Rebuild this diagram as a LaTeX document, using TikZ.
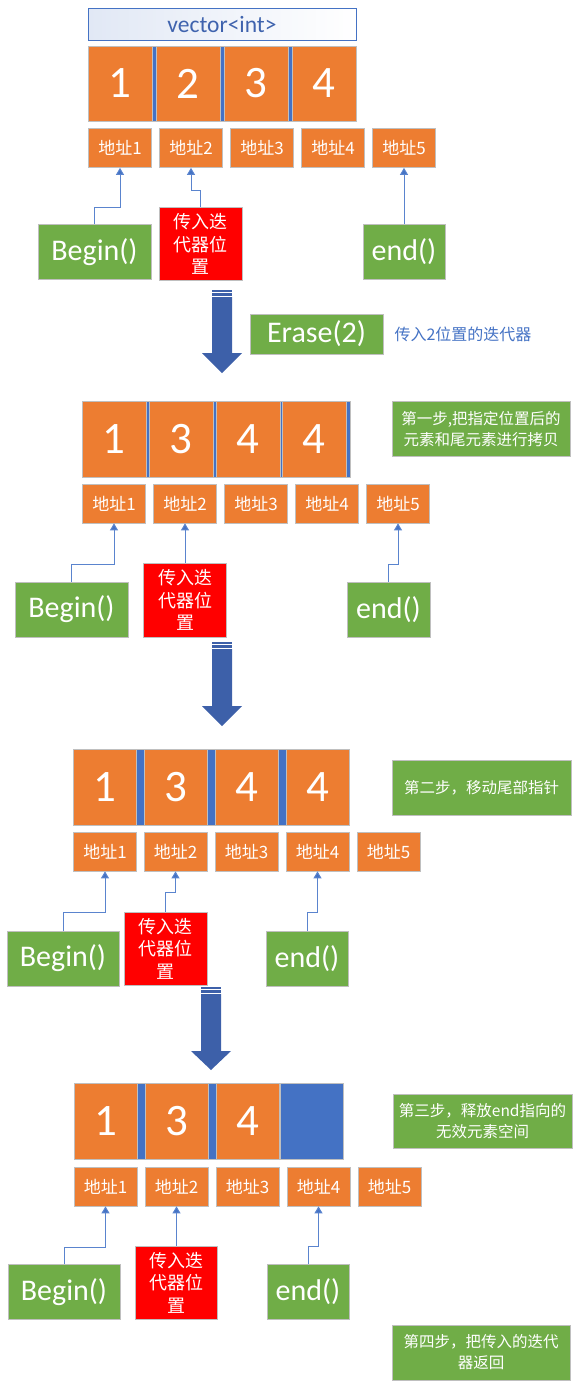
\documentclass[tikz,border=0pt]{standalone}
\usepackage{fontspec}
\setmainfont{Carlito}
\newfontfamily\cjk{Noto Sans CJK SC}
\usetikzlibrary{arrows.meta}
\definecolor{cellorange}{HTML}{ED7D31}
\definecolor{boxgreen}{HTML}{70AD47}
\definecolor{slotblue}{HTML}{4472C4}
\definecolor{edgegray}{HTML}{BFBFBF}
\definecolor{linkblue}{HTML}{5A84CE}
\definecolor{bigarrow}{HTML}{3D60A9}
\definecolor{vecshade}{HTML}{E1E8F5}
\definecolor{vectext}{HTML}{3F63AE}

\tikzset{
    cell/.style = {fill = cellorange, draw = edgegray, line width = 0.7pt, minimum width = 64pt, minimum height = 75pt, inner sep = 0pt, text = white, font = \fontsize{45}{45}\selectfont},
    slots/.style = {fill = slotblue, draw = edgegray, line width = 0.7pt, minimum height = 75pt, inner sep = 0pt},
    addr/.style = {fill = cellorange, draw = edgegray, line width = 0.7pt, minimum width = 63pt, minimum height = 39pt, inner sep = 0pt, text = white, font = \cjk\fontsize{17}{17}\selectfont},
    call/.style = {fill = boxgreen, draw = edgegray, line width = 0.7pt, minimum height = 55pt, inner sep = 0pt, text = white, font = \fontsize{30}{30}\selectfont},
    iter/.style = {fill = red, draw = edgegray, line width = 0.7pt, minimum width = 83pt, minimum height = 73pt, inner sep = 0pt, text = white, align = center, font = \cjk\fontsize{18}{22.5}\selectfont},
    stepnote/.style = {fill = boxgreen, draw = edgegray, line width = 0.7pt, minimum width = 178pt, minimum height = 55pt, inner sep = 0pt, text = white, align = center, font = \cjk\fontsize{15.5}{21}\selectfont},
    ptr/.style = {draw = linkblue, line width = 1pt, -{Triangle[width = 8pt, length = 7pt, fill = slotblue]}}
}

\begin{document}
\begin{tikzpicture}[x = 1pt, y = -1pt]

        \useasboundingbox (0, 0) rectangle (575, 1382);

        % Start
        \node [draw = slotblue, line width = 0.8pt, left color = vecshade, right color = white, minimum width = 268pt, minimum height = 32pt, text = vectext, font = \fontsize{23.5}{23.5}\selectfont] (vec) at (222, 24) {vector<int>};
        \node [slots, minimum width = 268pt] (s1) at (222, 83.5) {};
        \node [cell] (c11) at (120, 83.5) {1};
        \node [cell] (c12) at (188, 83.5) {2};
        \node [cell] (c13) at (256, 83.5) {3};
        \node [cell] (c14) at (324, 83.5) {4};

        \node [addr] (a11) at (120, 148) {地址1};
        \node [addr] (a12) at (191, 148) {地址2};
        \node [addr] (a13) at (262, 148) {地址3};
        \node [addr] (a14) at (333, 148) {地址4};
        \node [addr] (a15) at (404, 148) {地址5};

        \node [call, minimum width = 113pt] (beg1) at (94.5, 252) {Begin()};
        \node [iter] (red1) at (200.5, 244) {传入迭\\代器位\\置};
        \node [call, minimum width = 82pt] (end1) at (404, 252) {end()};

        \draw [ptr] (beg1.north) -- ++(0, -17) -| (a11.south);
        \draw [ptr] (red1.north) -- ++(0, -17) -| (a12.south);
        \draw [ptr] (end1.north) -- (a15.south);

        % Erase call
        \fill [bigarrow] (212, 290) rectangle (232, 292);
        \fill [bigarrow] (212, 293) rectangle (232, 296);
        \fill [bigarrow] (212, 297) -- (232, 297) -- (232, 353) -- (242, 353) -- (222, 373) -- (202, 353) -- (212, 353) -- cycle;
        \node [call, minimum width = 133pt, minimum height = 40pt] (erase) at (316.5, 334) {Erase(2)};
        \node [anchor = west, text = slotblue, font = \cjk\fontsize{16}{16}\selectfont] (hint) at (391, 334) {传入2位置的迭代器};

        % Step one
        \node [slots, minimum width = 268pt, minimum height = 76pt] (s2) at (216, 439) {};
        \node [cell, minimum height = 76pt] (c21) at (114, 439) {1};
        \node [cell, minimum height = 76pt] (c22) at (181, 439) {3};
        \node [cell, minimum height = 76pt] (c23) at (248, 439) {4};
        \node [cell, minimum height = 76pt] (c24) at (314, 439) {4};
        \node [stepnote] (note1) at (481, 429) {第一步,把指定位置后的\\元素和尾元素进行拷贝};

        \node [addr] (a21) at (114, 503.5) {地址1};
        \node [addr] (a22) at (185, 503.5) {地址2};
        \node [addr] (a23) at (256, 503.5) {地址3};
        \node [addr] (a24) at (327, 503.5) {地址4};
        \node [addr] (a25) at (398, 503.5) {地址5};

        \node [call, minimum width = 113pt] (beg2) at (71.5, 609.5) {Begin()};
        \node [iter, minimum height = 74pt] (red2) at (185, 600) {传入迭\\代器位\\置};
        \node [call, minimum width = 83pt] (end2) at (388.5, 609.5) {end()};

        \draw [ptr] (beg2.north) -- ++(0, -17) -| (a21.south);
        \draw [ptr] (red2.north) -- (a22.south);
        \draw [ptr] (end2.north) -- ++(0, -17) -| (a25.south);

        \fill [bigarrow] (212, 642) rectangle (232, 644);
        \fill [bigarrow] (212, 645) rectangle (232, 648);
        \fill [bigarrow] (212, 649) -- (232, 649) -- (232, 706) -- (242, 706) -- (222, 726) -- (202, 706) -- (212, 706) -- cycle;

        % Step two
        \node [slots, minimum width = 276pt, minimum height = 76pt] (s3) at (211, 787) {};
        \node [cell, minimum width = 63pt, minimum height = 76pt] (c31) at (104.5, 787) {1};
        \node [cell, minimum width = 63pt, minimum height = 76pt] (c32) at (175.5, 787) {3};
        \node [cell, minimum width = 63pt, minimum height = 76pt] (c33) at (246.5, 787) {4};
        \node [cell, minimum width = 63pt, minimum height = 76pt] (c34) at (317.5, 787) {4};
        \node [stepnote, minimum width = 179pt] (note2) at (481.5, 787.5) {第二步，移动尾部指针};

        \node [addr] (a31) at (105, 851.5) {地址1};
        \node [addr] (a32) at (175.5, 851.5) {地址2};
        \node [addr] (a33) at (246.5, 851.5) {地址3};
        \node [addr] (a34) at (317.5, 851.5) {地址4};
        \node [addr] (a35) at (388.5, 851.5) {地址5};

        \node [call, minimum width = 112pt] (beg3) at (63, 958.5) {Begin()};
        \node [iter] (red3) at (165.5, 948.5) {传入迭\\代器位\\置};
        \node [call, minimum width = 82pt] (end3) at (307, 958.5) {end()};

        \draw [ptr] (beg3.north) -- ++(0, -18) -| (a31.south);
        \draw [ptr] (red3.north) -- ++(0, -19) -| (a32.south);
        \draw [ptr] (end3.north) -- ++(0, -18) -| (a34.south);

        \fill [bigarrow] (201, 987) rectangle (221, 989);
        \fill [bigarrow] (201, 990) rectangle (221, 993);
        \fill [bigarrow] (201, 994) -- (221, 994) -- (221, 1051) -- (231, 1051) -- (211, 1070) -- (191, 1051) -- (201, 1051) -- cycle;

        % Step three and four
        \node [slots, minimum width = 269pt, minimum height = 76pt] (s4) at (208.5, 1121) {};
        \node [cell, minimum width = 63pt, minimum height = 76pt] (c41) at (105.5, 1121) {1};
        \node [cell, minimum width = 63pt, minimum height = 76pt] (c42) at (176.5, 1121) {3};
        \node [cell, minimum width = 63pt, minimum height = 76pt] (c43) at (247.5, 1121) {4};
        \node [cell, minimum width = 63pt, minimum height = 76pt, fill = slotblue] (c44) at (311.5, 1121) {};
        \node [stepnote, minimum width = 179pt, minimum height = 54pt] (note3) at (482.5, 1121) {第三步，释放end指向的\\无效元素空间};

        \node [addr] (a41) at (105.5, 1186.5) {地址1};
        \node [addr] (a42) at (176.5, 1186.5) {地址2};
        \node [addr] (a43) at (247.5, 1186.5) {地址3};
        \node [addr] (a44) at (318.5, 1186.5) {地址4};
        \node [addr] (a45) at (389.5, 1186.5) {地址5};

        \node [call, minimum width = 112pt] (beg4) at (64, 1292) {Begin()};
        \node [iter, minimum width = 82pt] (red4) at (176.5, 1282.5) {传入迭\\代器位\\置};
        \node [call, minimum width = 82pt] (end4) at (308, 1292) {end()};

        \draw [ptr] (beg4.north) -- ++(0, -16.5) -| (a41.south);
        \draw [ptr] (red4.north) -- (a42.south);
        \draw [ptr] (end4.north) -- ++(0, -17.5) -| (a44.south);

        \node [stepnote] (note4) at (481, 1352.5) {第四步，把传入的迭代\\器返回};

\end{tikzpicture}
\end{document}
